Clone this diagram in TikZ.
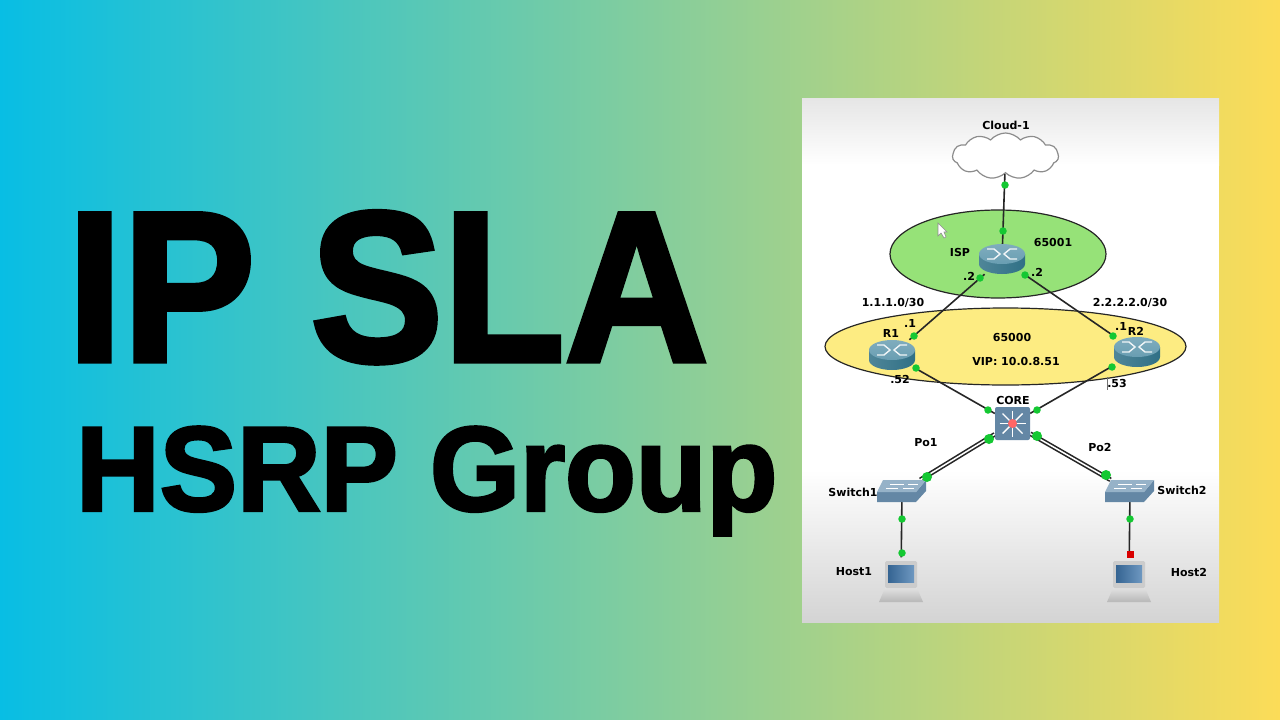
\documentclass[tikz,border=0pt]{standalone}
\usepackage{fontspec}
\setmainfont{Liberation Sans}
\newfontfamily\titlefont[FakeBold=2.5]{Liberation Sans Bold}
\newfontfamily\netfont{DejaVu Sans}
\usetikzlibrary{shapes.geometric,shapes.symbols}
\definecolor{bgleft}{RGB}{8,190,228}
\definecolor{bgmid}{RGB}{125,208,165}
\definecolor{bgright}{RGB}{252,220,88}
\definecolor{ispgreen}{RGB}{150,226,120}
\definecolor{asyellow}{RGB}{253,236,130}
\definecolor{dotgreen}{RGB}{20,200,50}
\definecolor{routertop}{RGB}{105,158,178}
\definecolor{routerbody}{RGB}{48,112,134}
\definecolor{slate}{RGB}{100,135,165}
\definecolor{slatelight}{RGB}{150,178,200}
\definecolor{screenblue}{RGB}{62,118,172}
\tikzset{
    biglabel/.style={anchor=base west,inner sep=0pt,transform shape},
    netlabel/.style={inner sep=0pt,font=\netfont\bfseries\fontsize{11}{12}\selectfont},
    link/.style={draw=black!85,line width=1.6pt},
    twinlink/.style={draw=black!85,double=white,line width=1.6pt,double distance=1.5pt},
    dot/.style={circle,fill=dotgreen,inner sep=0pt,minimum size=7.5pt},
    bigdot/.style={circle,fill=dotgreen,inner sep=0pt,minimum size=10pt},
    reddot/.style={rectangle,fill=red!85!black,inner sep=0pt,minimum size=7pt},
    routerbox/.style={inner sep=0pt,minimum width=46pt,minimum height=30pt},
    switchbox/.style={inner sep=0pt,minimum width=49pt,minimum height=22pt},
    hostbox/.style={inner sep=0pt,minimum width=44pt,minimum height=41pt},
    routericon/.pic={
        \shade[left color=routerbody!85!white,right color=routerbody]
            (-23,-5) -- (-23,5) arc[start angle=180,end angle=360,x radius=23pt,y radius=10pt] -- (23,-5) -- cycle;
        \shade[top color=routertop!85!white,bottom color=routertop] (0,-5) ellipse [x radius=23pt,y radius=10pt];
        \draw[white!90!routertop,line width=1.4pt] (-15,-10) -- (-8,-10) -- (-2,-5) -- (-8,0) -- (-15,0);
        \draw[white!90!routertop,line width=1.4pt] (15,-10) -- (8,-10) -- (2,-5) -- (8,0) -- (15,0);
    },
    coreicon/.pic={
        \fill[slate,rounded corners=2pt] (-17.5,-16.5) rectangle (17.5,16.5);
        \draw[white,line width=1.4pt] (-13,0) -- (13,0);
        \draw[white,line width=1.4pt] (0,-13) -- (0,13);
        \draw[white,line width=1.4pt] (-10,-10) -- (10,10);
        \draw[white,line width=1.4pt] (-10,10) -- (10,-10);
        \fill[red!60!white] (0,0) circle (4.5pt);
    },
    switchicon/.pic={
        \fill[slate] (-25,1) -- (14,1) -- (24,-11) -- (24,0) -- (14,11) -- (-25,11) -- cycle;
        \fill[slatelight] (-19,-11) -- (24,-11) -- (14,1) -- (-25,1) -- cycle;
        \draw[white,line width=.9pt] (-12,-7) -- (2,-7);
        \draw[white,line width=.9pt] (6,-7) -- (16,-7);
        \draw[white,line width=.9pt] (-16,-3) -- (-4,-3);
        \draw[white,line width=.9pt] (1,-3) -- (12,-3);
    },
    hosticon/.pic={
        \shade[top color=black!12,bottom color=black!28] (-16,10) -- (16,10) -- (22,24) -- (-22,24) -- cycle;
        \fill[black!20,rounded corners=1.5pt] (-16,-17) rectangle (16,10);
        \shade[left color=screenblue!85!black,right color=screenblue!75!white] (-13,-13) rectangle (13,4);
    }
}
\begin{document}
\begin{tikzpicture}[x=1pt,y=-1pt]
    \useasboundingbox (0,0) rectangle (1280,720);
    \shade[left color=bgleft,middle color=bgmid,right color=bgright] (0,0) rectangle (1280,720);
    % panel
    \shade[top color=black!10,bottom color=white] (802,98) rectangle (1219,165);
    \fill[white] (802,165) rectangle (1219,470);
    \shade[top color=white,bottom color=black!17] (802,470) rectangle (1219,622);

    \node[biglabel,xscale=.93,font=\titlefont\fontsize{214}{214}\selectfont] (title) at (67,361) {IP SLA};
    \node[biglabel,xscale=.965,font=\titlefont\fontsize{120}{120}\selectfont] (subtitle) at (76,510.5) {HSRP Group};

    \node[ellipse,draw=black!85,line width=1.2pt,fill=ispgreen,minimum width=216pt,minimum height=88pt,inner sep=0pt] (ispzone) at (998,254) {};
    \node[ellipse,draw=black!85,line width=1.2pt,fill=asyellow,minimum width=361pt,minimum height=77pt,inner sep=0pt] (aszone) at (1005.5,346.5) {};

    \node[cloud,cloud puffs=11,cloud puff arc=100,aspect=2.4,draw=black!45,line width=1.2pt,fill=white,minimum width=106pt,minimum height=46pt,inner sep=0pt] (Cloud) at (1005.5,156) {};
    \node[routerbox] (ISP) at (1002,259) {};
    \node[routerbox] (R1) at (892,355) {};
    \node[routerbox] (R2) at (1137,352) {};
    \node[inner sep=0pt,minimum width=35pt,minimum height=33pt] (CORE) at (1012.5,423.5) {};
    \node[switchbox] (Switch1) at (902,491) {};
    \node[switchbox] (Switch2) at (1130,491) {};
    \node[hostbox] (Host1) at (901,578) {};
    \node[hostbox] (Host2) at (1129,578) {};

    \draw[link] (Cloud) -- (ISP);
    \draw[link] (ISP) -- (R1);
    \draw[link] (ISP) -- (R2);
    \draw[link] (R1) -- (CORE);
    \draw[link] (R2) -- (CORE);
    \draw[twinlink] (CORE) -- (Switch1);
    \draw[twinlink] (CORE) -- (Switch2);
    \draw[link] (Switch1) -- (Host1);
    \draw[link] (Switch2) -- (Host2);

    \pic at (ISP) {routericon};
    \pic at (R1) {routericon};
    \pic at (R2) {routericon};
    \pic at (CORE) {coreicon};
    \pic at (Switch1) {switchicon};
    \pic at (Switch2) {switchicon};
    \pic at (Host1) {hosticon};
    \pic at (Host2) {hosticon};

    \node[dot] (d1) at (1005,185) {};
    \node[dot] (d2) at (1003,231) {};
    \node[dot] (d3) at (980,278) {};
    \node[dot] (d4) at (1025,275) {};
    \node[dot] (d5) at (914,336) {};
    \node[dot] (d6) at (1113,336) {};
    \node[dot] (d7) at (916,368) {};
    \node[dot] (d8) at (1112,367) {};
    \node[dot] (d9) at (988,410) {};
    \node[dot] (d10) at (1037,410) {};
    \node[bigdot] (d11) at (989,439) {};
    \node[bigdot] (d12) at (1037,436) {};
    \node[bigdot] (d13) at (927,477) {};
    \node[bigdot] (d14) at (1106,475) {};
    \node[dot] (d15) at (902,519) {};
    \node[dot] (d16) at (902,553) {};
    \node[dot] (d17) at (1130,519) {};
    \node[reddot] (d18) at (1130,554) {};

    % pointer
    \draw[black!45,fill=white,line width=.6pt] (938,223) -- (938,236) -- (941,233) -- (944,238) -- (946,237) -- (944,232) -- (947,232) -- cycle;
    \draw[black!55,line width=.8pt] (1107,377) -- (1107,390);

    \node[netlabel] (t1) at (1006,125) {Cloud-1};
    \node[netlabel] (t2) at (960,252) {ISP};
    \node[netlabel] (t3) at (1053,242) {65001};
    \node[netlabel] (t4) at (969,276) {.2};
    \node[netlabel] (t5) at (1037,272) {.2};
    \node[netlabel] (t6) at (893,303) {1.1.1.0/30};
    \node[netlabel] (t7) at (1130,303) {2.2.2.2.0/30};
    \node[netlabel] (t8) at (910,323) {.1};
    \node[netlabel] (t9) at (891,333) {R1};
    \node[netlabel] (t10) at (1012,337) {65000};
    \node[netlabel] (t11) at (1016,361) {VIP: 10.0.8.51};
    \node[netlabel] (t12) at (1121,326) {.1};
    \node[netlabel] (t13) at (1136,331) {R2};
    \node[netlabel] (t14) at (900,379) {.52};
    \node[netlabel] (t15) at (1117,383) {.53};
    \node[netlabel] (t16) at (1013,400) {CORE};
    \node[netlabel] (t17) at (926,443) {Po1};
    \node[netlabel] (t18) at (1100,447) {Po2};
    \node[netlabel] (t19) at (853,492) {Switch1};
    \node[netlabel] (t20) at (1182,490) {Switch2};
    \node[netlabel] (t21) at (854,572) {Host1};
    \node[netlabel] (t22) at (1189,572) {Host2};
\end{tikzpicture}
\end{document}
